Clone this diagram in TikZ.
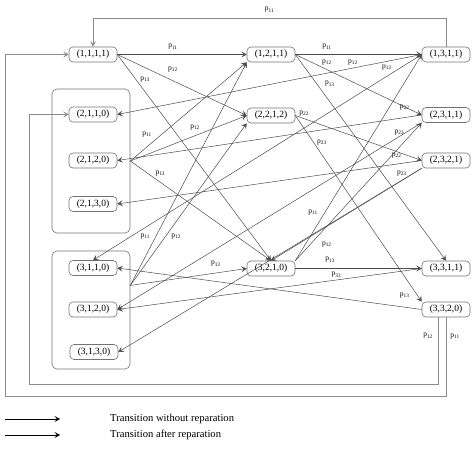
\documentclass[tikz,border=0pt]{standalone}
\usepackage{fontspec}
\setmainfont{Liberation Serif}
\usetikzlibrary{arrows.meta, positioning}

\begin{document}
\begin{tikzpicture}[
    x=1pt, y=-1pt,
    % Styles
    state/.style={draw=black!55, line width=0.6pt, rounded corners=4pt, minimum width=48pt, minimum height=15pt, inner sep=1pt, font=\fontsize{9.5}{11}\selectfont},
    group/.style={draw=black!55, line width=0.6pt, rounded corners=5pt, minimum width=78pt},
    wire/.style={-{Stealth[length=5.5pt, width=6pt, inset=2.5pt]}, draw=black!70, line width=0.5pt},
    loopwire/.style={wire, draw=black!45, line width=0.6pt},
    prob/.style={font=\fontsize{7.5}{8}\selectfont, inner sep=0pt}
]
\useasboundingbox (0,0) rectangle (474,448);

    % --- GROUP BOXES ---
    \node[group, minimum height=144pt] (G2) at (91,161) {};
    \node[group, minimum height=118pt] (G3) at (91,310) {};

    % --- ROW OF TYPE 1 ---
    \node[state] (S1111) at (93,54.5) {(1,1,1,1)};
    \node[state] (S1211) at (271,54.5) {(1,2,1,1)};
    \node[state] (S1311) at (446,54.5) {(1,3,1,1)};

    % --- TYPE 2 ---
    \node[state] (S2110) at (93,114.5) {(2,1,1,0)};
    \node[state] (S2120) at (93,160.5) {(2,1,2,0)};
    \node[state] (S2130) at (93,204) {(2,1,3,0)};
    \node[state] (S2212) at (271,115.5) {(2,2,1,2)};
    \node[state] (S2311) at (446,115) {(2,3,1,1)};
    \node[state] (S2321) at (446,160.5) {(2,3,2,1)};

    % --- TYPE 3 ---
    \node[state] (S3110) at (93,268) {(3,1,1,0)};
    \node[state] (S3120) at (93,309.5) {(3,1,2,0)};
    \node[state] (S3130) at (94,352) {(3,1,3,0)};
    \node[state] (S3210) at (271,268.5) {(3,2,1,0)};
    \node[state] (S3311) at (446,268.5) {(3,3,1,1)};
    \node[state] (S3320) at (446,309.5) {(3,3,2,0)};

    % corners of the loops
    \coordinate (top) at (446,18);
    \coordinate (inner) at (29,384);
    \coordinate (outer) at (5,396);

    % --- FROM (1,1,1,1) ---
    \draw[wire] (S1111.east) -- node[prob, pos=0.43, yshift=7.5pt] {p\textsubscript{11}} (S1211.west);
    \draw[wire] (S1111.east) -- node[prob, pos=0.43, yshift=11pt] {p\textsubscript{12}} (S2212.west);
    \draw[wire] (S1111.east) -- node[prob, pos=0.123, xshift=9pt] {p\textsubscript{13}} (S3210.north);

    % --- FROM (1,2,1,1) ---
    \draw[wire] (S1211.east) -- node[prob, pos=0.25, yshift=7.5pt] {p\textsubscript{11}} (S1311.west);
    \draw[wire] (S1211.east) -- node[prob, pos=0.25, yshift=7.5pt] {p\textsubscript{12}} (S2311.west);
    \draw[wire] (S1211.east) -- node[prob, pos=0.143, xshift=13pt] {p\textsubscript{13}} (S3311.north);

    % --- FROM (1,3,1,1) ---
    \draw[loopwire] (S1311.north) -- (top) -| node[prob, pos=0.25, yshift=8pt] {p\textsubscript{11}} (S1111.north);
    \draw[wire] (S1311.west) -- node[prob, pos=0.226, yshift=6pt] {p\textsubscript{12}} (S2110.east);
    \draw[wire] (S1311.west) -- node[prob, pos=0.106, yshift=8.5pt] {p\textsubscript{13}} (S3110.north);

    % --- AFTER REPARATION (groups) ---
    \draw[wire] (G2.east) -- node[prob, pos=0.273, xshift=-15pt] {p\textsubscript{11}} (S1211.south west);
    \draw[wire] (G2.east) -- node[prob, pos=0.556, yshift=8.5pt] {p\textsubscript{12}} (S2212.west);
    \draw[wire] (G2.east) -- node[prob, pos=0.213, yshift=9pt] {p\textsubscript{13}} (S3210.north);
    \draw[wire] (G3.32) -- node[prob, pos=0.219, xshift=-10.5pt] {p\textsubscript{11}} (S1211.south west);
    \draw[wire] (G3.32) -- node[prob, pos=0.30, xshift=11pt] {p\textsubscript{12}} (S2212.south west);
    \draw[wire] (G3.32) -- node[prob, pos=0.735, yshift=9pt] {p\textsubscript{13}} (S3210.west);

    % --- FROM (2,2,1,2) ---
    \draw[wire] (S2212.east) -- node[prob, pos=0.07, yshift=5pt] {p\textsubscript{22}} (S2321.west);
    \draw[wire] (S2212.east) -- node[prob, pos=0.147, xshift=8pt] {p\textsubscript{23}} (S3320.north west);

    % --- FROM (2,3,1,1) and (2,3,2,1) ---
    \draw[wire] (S2311.west) -- node[prob, pos=0.056, yshift=10.5pt] {p\textsubscript{22}} (S2120.east);
    \draw[wire] (S2311.south west) -- node[prob, pos=0.05, xshift=-7pt] {p\textsubscript{23}} (S3120.east);
    \draw[wire] (S2321.west) -- node[prob, pos=0.082, yshift=9pt] {p\textsubscript{22}} (S2130.east);
    \draw[wire] (S2321.south west) -- node[prob, pos=0.132, yshift=7pt] {p\textsubscript{23}} (S3210.north);
    \draw[wire] (S2321.south west) -- (S3130.east);

    % --- FROM (3,2,1,0) ---
    \draw[wire] (S3210.north east) -- node[prob, pos=0.232, xshift=-11.5pt] {p\textsubscript{11}} (S1311.west);
    \draw[wire] (S3210.north east) -- node[prob, pos=0.115, xshift=17pt] {p\textsubscript{12}} (S2311.south west);
    \draw[wire] (S3210.east) -- node[prob, pos=0.276, yshift=8.5pt] {p\textsubscript{13}} (S3311.west);

    % --- FROM (3,3,1,1) and (3,3,2,0) ---
    \draw[wire] (S3311.west) -- node[prob, pos=0.28, yshift=5pt] {p\textsubscript{33}} (S3120.east);
    \draw[wire] (S3320.west) -- node[prob, pos=0.056, yshift=12pt] {p\textsubscript{13}} (S3110.east);
    \draw[loopwire] ([xshift=-8pt]S3320.south) |- node[prob, pos=0.14, xshift=-10pt] {p\textsubscript{12}} (inner) |- (S2110.west);
    \draw[loopwire] (S3320.south) |- node[prob, pos=0.12, xshift=9pt] {p\textsubscript{11}} (outer) |- (S1111.west);

    % --- LEGEND ---
    \coordinate (lgA) at (5,419);
    \coordinate (lgB) at (60,419);
    \coordinate (lgC) at (5,435);
    \coordinate (lgD) at (60,435);
    \draw[wire, draw=black] (lgA) -- (lgB);
    \draw[wire, draw=black] (lgC) -- (lgD);
    \node[anchor=west, font=\fontsize{10.6}{12}\selectfont, inner sep=0pt] (lgtext1) at (110,419) {Transition without reparation};
    \node[anchor=west, font=\fontsize{10.6}{12}\selectfont, inner sep=0pt] (lgtext2) at (110,435) {Transition after reparation};

\end{tikzpicture}
\end{document}
